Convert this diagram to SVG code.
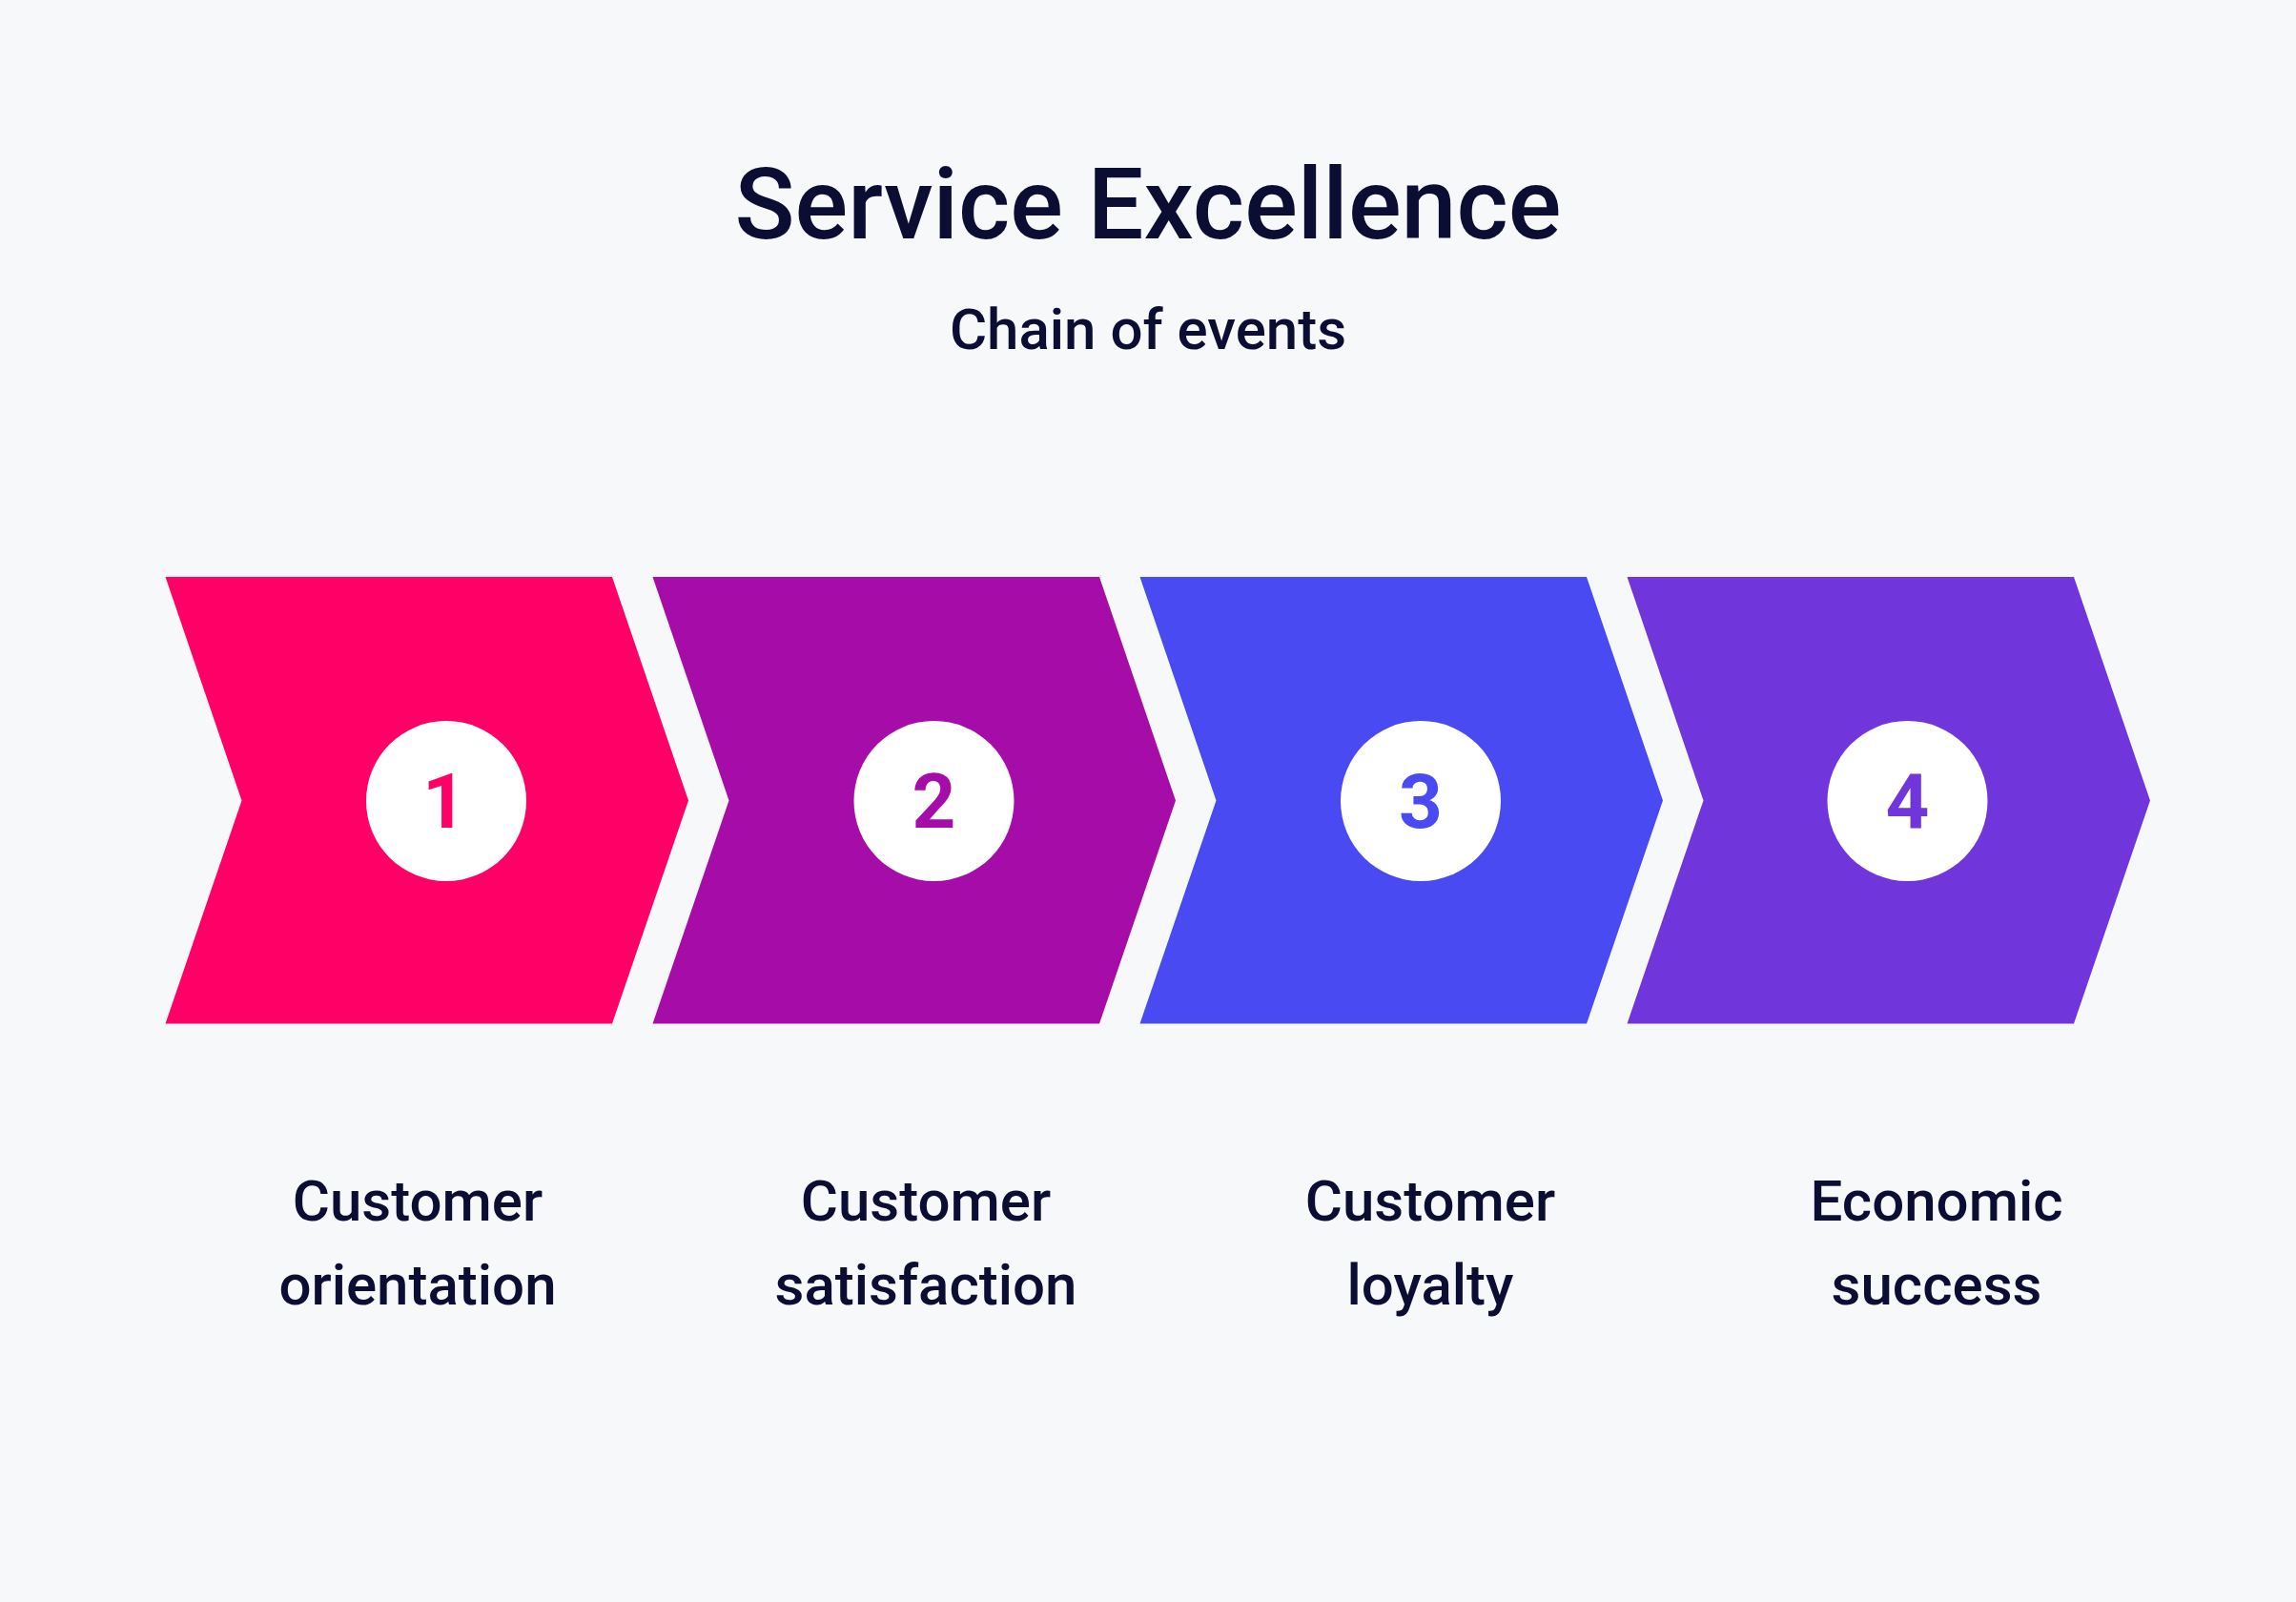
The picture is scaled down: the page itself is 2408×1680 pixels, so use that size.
<svg xmlns="http://www.w3.org/2000/svg" width="2408" height="1680" viewBox="0 0 2408 1680">
<style>
.t{font-family:Roboto,"Liberation Sans",sans-serif;fill:#0B0D33;text-anchor:middle}
.title{font-size:104px;font-weight:500}
.sub{font-size:60px;font-weight:500}
.lbl{font-size:60px;font-weight:500}
.num{font-family:Roboto,"Liberation Sans",sans-serif;font-size:80px;font-weight:700;text-anchor:middle}
.circ{fill:#FFFFFF}
</style>
<defs>
<polygon id="chev" points="173.5,605 642,605 722,839.5 642,1073.5 173.5,1073.5 253.5,839.5"/>
</defs>
<rect width="2408" height="1680" fill="#F7F8FA"/>
<text class="t title" x="1204" y="250">Service Excellence</text>
<text class="t sub" x="1204" y="366">Chain of events</text>
<g id="connectors"></g>
<g id="node1">
<use href="#chev" fill="#FF0066"/>
<circle class="circ" cx="468" cy="840" r="84"/>
<text class="num" x="466" y="868" fill="#FF0066">1</text>
<text class="t lbl" x="438" y="1280">Customer</text>
<text class="t lbl" x="438" y="1368">orientation</text>
</g>
<g id="node2">
<use href="#chev" x="511" fill="#A60DA8"/>
<circle class="circ" cx="979.5" cy="840" r="84"/>
<text class="num" x="979.5" y="868" fill="#A60DA8">2</text>
<text class="t lbl" x="971" y="1280">Customer</text>
<text class="t lbl" x="971" y="1368">satisfaction</text>
</g>
<g id="node3">
<use href="#chev" x="1022" fill="#4A4AF3"/>
<circle class="circ" cx="1490" cy="840" r="84"/>
<text class="num" x="1490" y="868" fill="#4A4AF3">3</text>
<text class="t lbl" x="1500" y="1280">Customer</text>
<text class="t lbl" x="1500" y="1368">loyalty</text>
</g>
<g id="node4">
<use href="#chev" x="1533" fill="#7136DB"/>
<circle class="circ" cx="2000.5" cy="840" r="84"/>
<text class="num" x="2000.5" y="868" fill="#7136DB">4</text>
<text class="t lbl" x="2031" y="1280">Economic</text>
<text class="t lbl" x="2031" y="1368">success</text>
</g>
</svg>
